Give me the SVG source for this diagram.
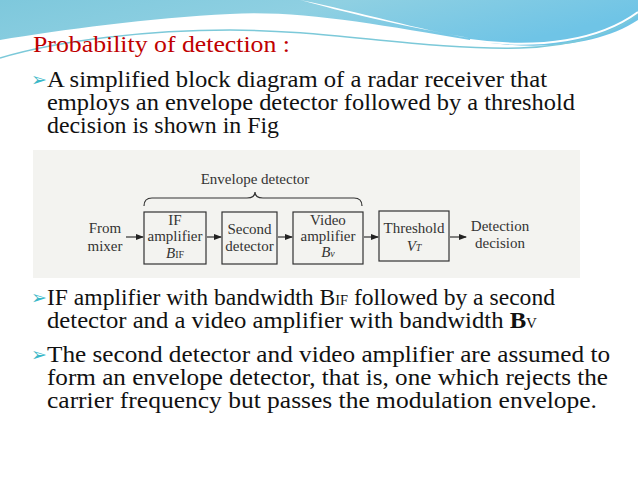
<svg xmlns="http://www.w3.org/2000/svg" width="638" height="478" viewBox="0 0 638 478">
<defs>
<linearGradient id="sky" x1="0" y1="0" x2="1" y2="0.3">
<stop offset="0" stop-color="#7ec8dc"/><stop offset="0.5" stop-color="#8fd0e2"/><stop offset="1" stop-color="#6fc4e6"/>
</linearGradient>
<marker id="ah" markerWidth="8" markerHeight="6" refX="7" refY="3" orient="auto" markerUnits="userSpaceOnUse"><path d="M0,0 L8,3 L0,6 z" fill="#222"/></marker>
<style>
.t{font-family:"Liberation Serif",serif;font-size:23px;fill:#111}
.b{font-family:"DejaVu Sans",sans-serif;font-size:19px;fill:#3ab8c8}
.d{font-family:"Liberation Serif",serif;font-size:15px;fill:#333;text-anchor:middle}
.box{fill:none;stroke:#333;stroke-width:1.2}
.ln{stroke:#333;stroke-width:1.2;fill:none}
</style>
</defs>
<rect width="638" height="478" fill="#fff"/>
<path d="M0,0 H638 V20 C600,45 540,52 470,40 C380,25 300,10 230,14 C150,18 60,30 0,40 Z" fill="url(#sky)"/>
<path d="M300,0 C360,12 420,30 470,38 C380,22 330,8 300,0 Z" fill="#fff"/>
<path d="M0,58 C60,40 150,30 230,30 C330,30 420,50 520,48 C580,46 620,30 638,14" fill="none" stroke="#7cc9d9" stroke-width="1.5"/>
<path d="M470,40 C540,50 600,40 638,12" fill="none" stroke="#fff" stroke-width="2"/>
<text x="33" y="52" font-family="Liberation Serif,serif" font-size="24" fill="#c00000" textLength="257" lengthAdjust="spacingAndGlyphs">Probability of detection :</text>
<g id="bullet1">
<text class="b" x="31" y="86">➢</text>
<text class="t" x="47" y="87" textLength="500" lengthAdjust="spacingAndGlyphs">A simplified block diagram of a radar receiver that</text>
<text class="t" x="47" y="110" textLength="528" lengthAdjust="spacingAndGlyphs">employs an envelope detector followed by a threshold</text>
<text class="t" x="47" y="133" textLength="232" lengthAdjust="spacingAndGlyphs">decision is shown in Fig</text>
</g>
<rect x="33" y="150" width="547" height="128" fill="#f3f3f0"/>
<g id="connectors">
<path class="ln" d="M144,206 Q144,198 152,198 H247 Q255,198 255,192 Q255,198 263,198 H354 Q362,198 362,206"/>
<line class="ln" x1="126" y1="237" x2="143" y2="237" marker-end="url(#ah)"/>
<line class="ln" x1="207" y1="237" x2="221" y2="237" marker-end="url(#ah)"/>
<line class="ln" x1="278" y1="237" x2="292" y2="237" marker-end="url(#ah)"/>
<line class="ln" x1="364" y1="237" x2="378" y2="237" marker-end="url(#ah)"/>
<line class="ln" x1="450" y1="237" x2="466" y2="237" marker-end="url(#ah)"/>
</g>
<text class="d" x="255" y="184">Envelope detector</text>
<g id="from"><text class="d" x="105" y="233">From</text><text class="d" x="105" y="251">mixer</text></g>
<g id="if"><rect class="box" x="144" y="212" width="62" height="52"/>
<text class="d" x="175" y="225">IF</text><text class="d" x="175" y="241">amplifier</text><text class="d" x="175" y="258" font-style="italic">B<tspan font-size="10" font-style="normal">IF</tspan></text></g>
<g id="second"><rect class="box" x="222" y="212" width="55" height="52"/>
<text class="d" x="249.5" y="234">Second</text><text class="d" x="249.5" y="251">detector</text></g>
<g id="video"><rect class="box" x="293" y="212" width="70" height="52"/>
<text class="d" x="328" y="225">Video</text><text class="d" x="328" y="241">amplifier</text><text class="d" x="328" y="257" font-style="italic">B<tspan font-size="10">v</tspan></text></g>
<g id="threshold"><rect class="box" x="379" y="211" width="70" height="50"/>
<text class="d" x="414" y="233">Threshold</text><text class="d" x="414" y="251" font-style="italic">V<tspan font-size="10">T</tspan></text></g>
<g id="decision"><text class="d" x="500" y="231">Detection</text><text class="d" x="500" y="248">decision</text></g>
<g id="bullet2">
<text class="b" x="31" y="304">➢</text>
<text class="t" x="47" y="305" textLength="508" lengthAdjust="spacingAndGlyphs">IF amplifier with bandwidth B<tspan font-size="14">IF</tspan> followed by a second</text>
<text class="t" x="47" y="328" textLength="490" lengthAdjust="spacingAndGlyphs">detector and a video amplifier with bandwidth <tspan font-weight="bold">B</tspan><tspan font-size="14">V</tspan></text>
</g>
<g id="bullet3">
<text class="b" x="31" y="361">➢</text>
<text class="t" x="47" y="362" textLength="563" lengthAdjust="spacingAndGlyphs">The second detector and video amplifier are assumed to</text>
<text class="t" x="47" y="385" textLength="561" lengthAdjust="spacingAndGlyphs">form an envelope detector, that is, one which rejects the</text>
<text class="t" x="47" y="408" textLength="550" lengthAdjust="spacingAndGlyphs">carrier frequency but passes the modulation envelope.</text>
</g>
</svg>
